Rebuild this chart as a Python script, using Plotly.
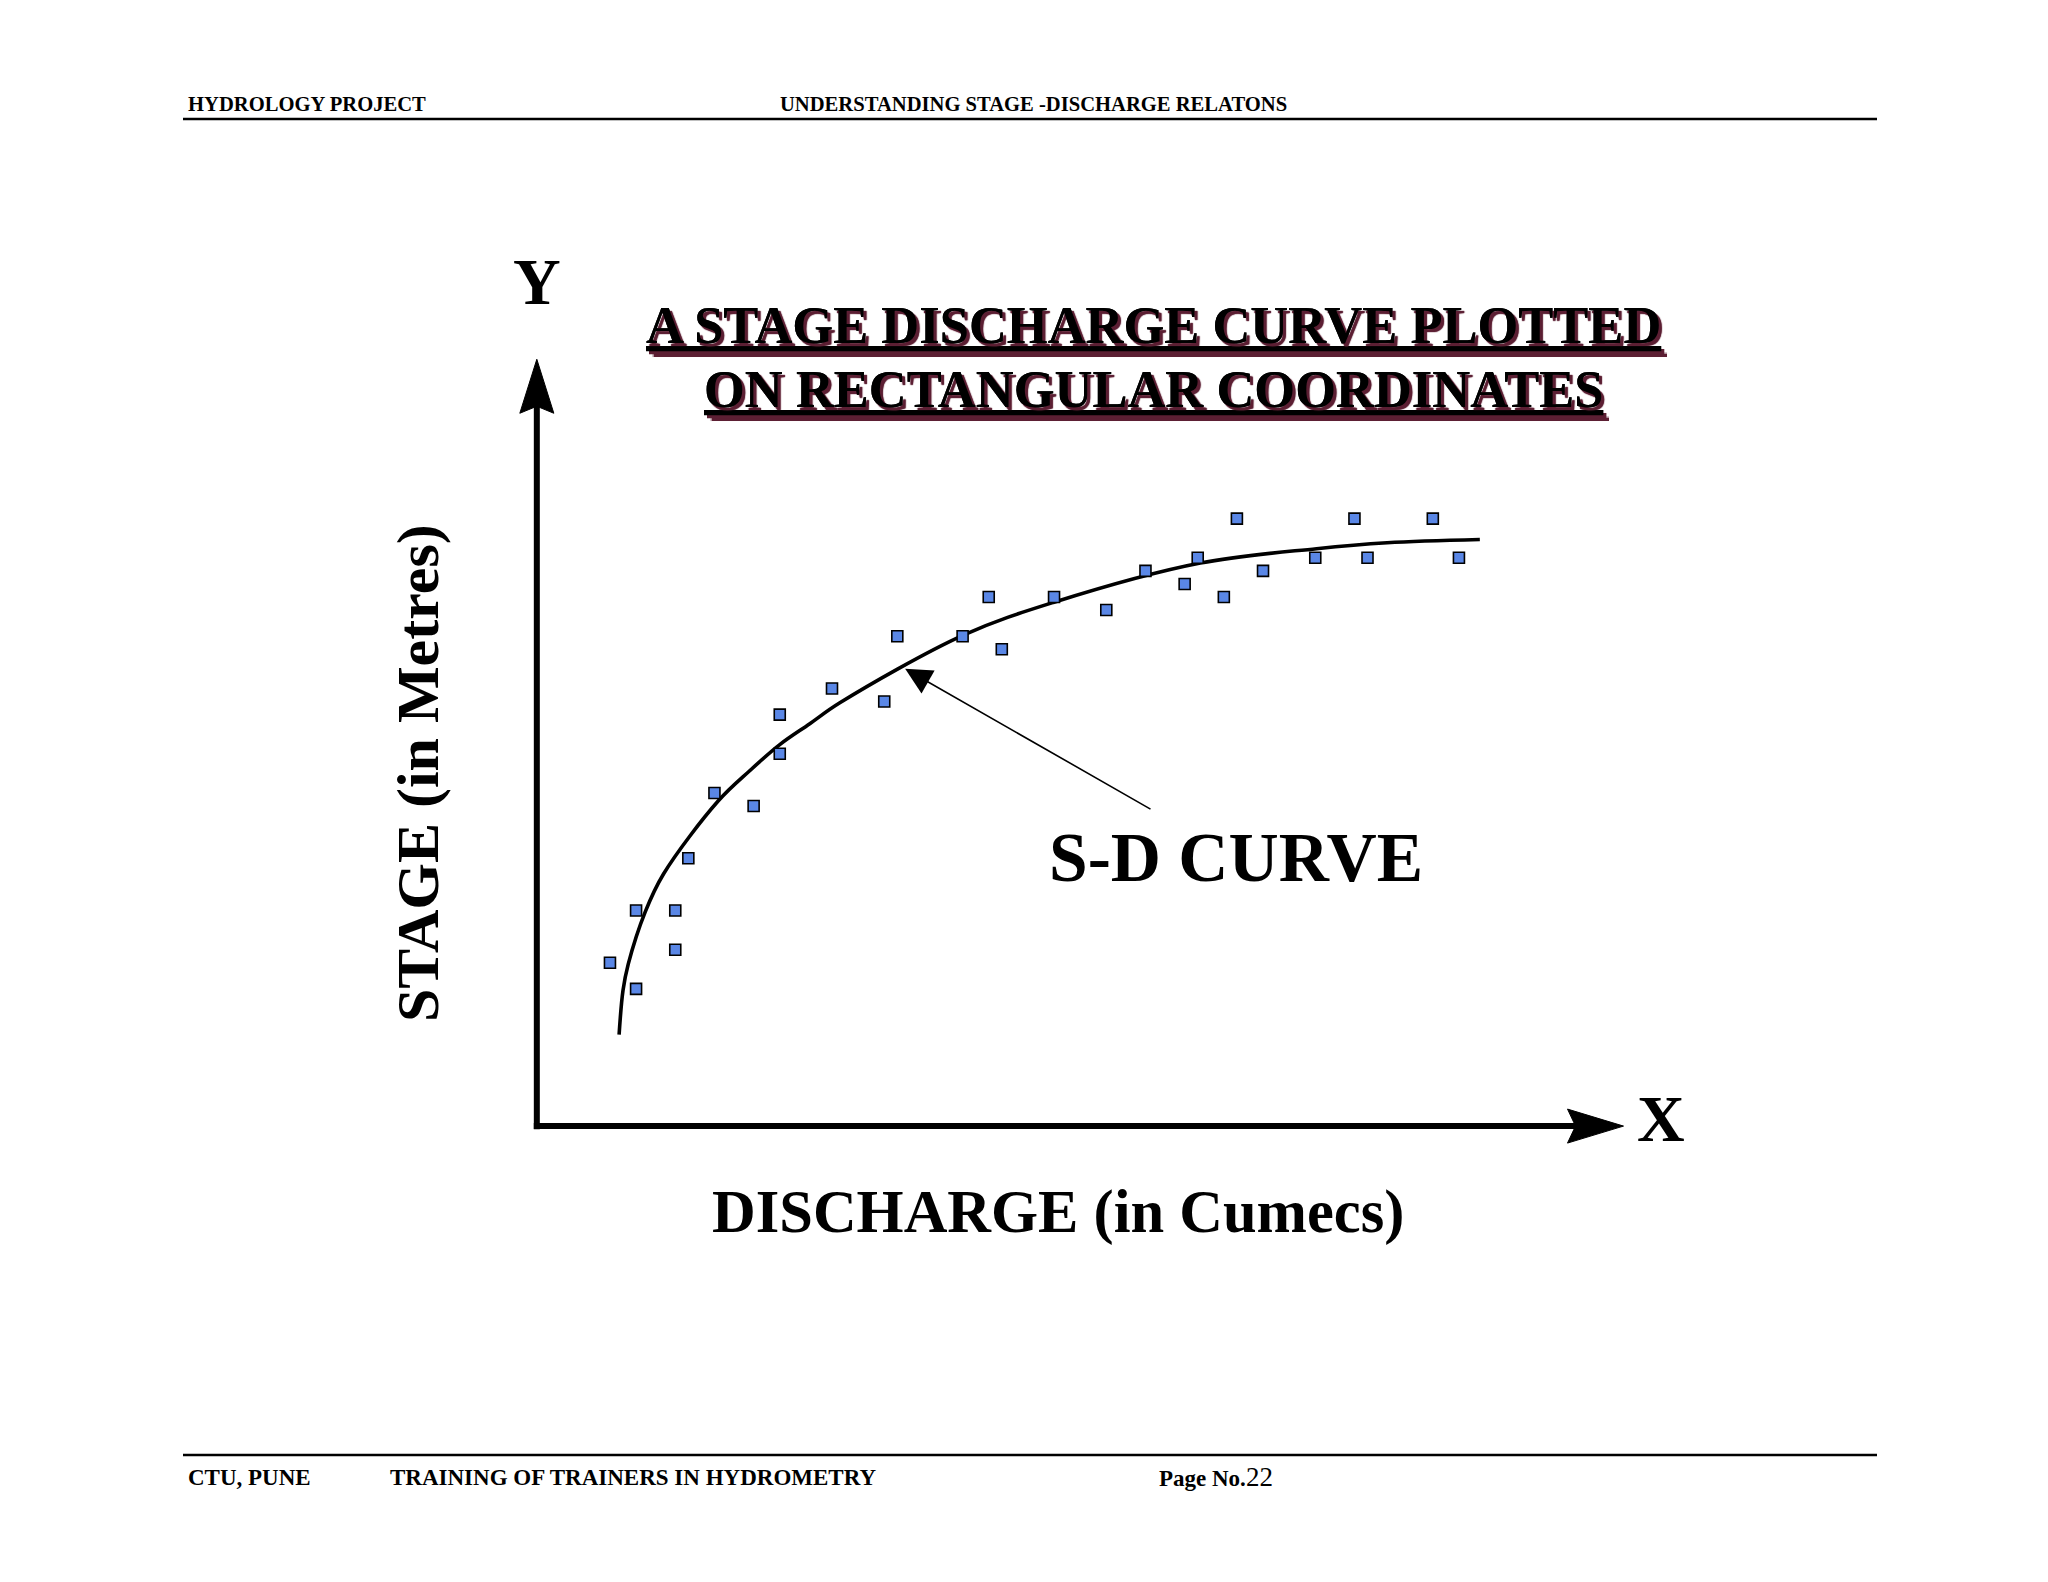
import plotly.graph_objects as go

# Observed gauging points (discharge in arbitrary cumec units, stage in metres)
discharge = [56, 76, 76, 106, 106, 116, 136, 166, 186, 186, 226, 266, 276, 326, 356,
             346, 396, 436, 466, 496, 506, 526, 536, 556, 596, 626, 636, 686, 706]
stage = [1.25, 1.05, 1.65, 1.65, 1.35, 2.05, 2.55, 2.45, 3.15, 2.85, 3.35, 3.25, 3.75, 3.75, 3.65,
         4.05, 4.05, 3.95, 4.25, 4.15, 4.35, 4.05, 4.65, 4.25, 4.35, 4.65, 4.35, 4.65, 4.35]

# Fitted S-D curve
curve_q = [63, 66, 70, 83, 97, 139, 163, 186, 209, 232, 327, 396, 508, 597, 651, 722]
curve_h = [0.70, 1.04, 1.24, 1.64, 1.93, 2.49, 2.72, 2.92, 3.08, 3.24, 3.76, 4.01, 4.31, 4.42, 4.465, 4.49]

# Axis arrow extents
x_axis_end = 832
y_axis_end = 5.87

W, H = 2048, 1582
SERIF = "Liberation Serif, Times New Roman, serif"


def px(x):
    return x / W


def py(y):
    return 1 - y / H


fig = go.Figure()

fig.add_trace(go.Scatter(
    x=curve_q, y=curve_h, mode="lines",
    line=dict(color="black", width=3.6, shape="spline", smoothing=1.0),
    hoverinfo="skip", showlegend=False,
))
fig.add_trace(go.Scatter(
    x=discharge, y=stage, mode="markers",
    marker=dict(symbol="square", size=11, color="#5a87e6",
                line=dict(color="black", width=1.6)),
    showlegend=False,
))

annotations = []
# S-D curve pointer
annotations.append(dict(x=282, y=3.50, ax=471, ay=2.42, xref="x", yref="y", axref="x", ayref="y",
                        text="", showarrow=True, arrowhead=2, arrowsize=3.3, arrowwidth=1.6,
                        arrowcolor="black"))


def label(text, x, y, size, xanchor="center", angle=0, weight="bold", **font_extra):
    annotations.append(dict(
        text=text, x=px(x), y=py(y), xref="paper", yref="paper",
        xanchor=xanchor, yanchor="middle", showarrow=False, textangle=angle,
        font=dict(family=SERIF, size=size, color="black", weight=weight, **font_extra),
    ))


label("Y", 537, 281, 66)
label("X", 1661, 1118, 66)
label("STAGE (in Metres)", 418, 773, 60, angle=-90)
label("DISCHARGE (in Cumecs)", 1058, 1212, 60.5)
label("S-D CURVE", 1236, 857, 69.5)

title_font = dict(lineposition="under", shadow="3px 3px 1px #5c1f33")
label("A STAGE DISCHARGE CURVE PLOTTED", 1153, 325, 52.5, **title_font)
label("ON RECTANGULAR COORDINATES", 1153, 389, 52.5, **title_font)

# Page header and footer
label("HYDROLOGY PROJECT", 186, 104, 20.6, xanchor="left")
label("UNDERSTANDING STAGE -DISCHARGE RELATONS", 778, 104, 20.6, xanchor="left")
label("CTU, PUNE", 186, 1477, 23, xanchor="left")
label("TRAINING OF TRAINERS IN HYDROMETRY", 388, 1477, 23, xanchor="left")
label("<b>Page No.</b><span style='font-size:27px'>22</span>", 1157, 1477, 23,
      xanchor="left", weight="normal")

shapes = [
    dict(type="line", xref="paper", yref="paper", x0=px(183), x1=px(1877), y0=py(119), y1=py(119),
         line=dict(color="black", width=2.5)),
    dict(type="line", xref="paper", yref="paper", x0=px(183), x1=px(1877), y0=py(1455), y1=py(1455),
         line=dict(color="black", width=2.5)),
    # Y axis shaft + head
    dict(type="line", xref="x", yref="y", x0=0, x1=0, y0=-0.025, y1=y_axis_end - 0.33,
         line=dict(color="black", width=6)),
    dict(type="path", xref="x", yref="y", xsizemode="pixel", ysizemode="pixel",
         xanchor=0, yanchor=y_axis_end, path="M0,0 L-17,-54 L0,-47 L17,-54 Z",
         fillcolor="black", line=dict(color="black", width=1)),
    # X axis shaft + head
    dict(type="line", xref="x", yref="y", x0=-2.3, x1=x_axis_end - 33, y0=0, y1=0,
         line=dict(color="black", width=6)),
    dict(type="path", xref="x", yref="y", xsizemode="pixel", ysizemode="pixel",
         xanchor=x_axis_end, yanchor=0, path="M0,0 L-56,17 L-48,0 L-56,-17 Z",
         fillcolor="black", line=dict(color="black", width=1)),
]

fig.update_layout(
    width=W, height=H,
    margin=dict(l=0, r=0, t=0, b=0),
    paper_bgcolor="white", plot_bgcolor="white",
    xaxis=dict(range=[-411, 1157], visible=False, showgrid=False, zeroline=False),
    yaxis=dict(range=[-3.49, 8.62], visible=False, showgrid=False, zeroline=False),
    annotations=annotations, shapes=shapes,
    showlegend=False,
)

fig.write_html("out.html")
